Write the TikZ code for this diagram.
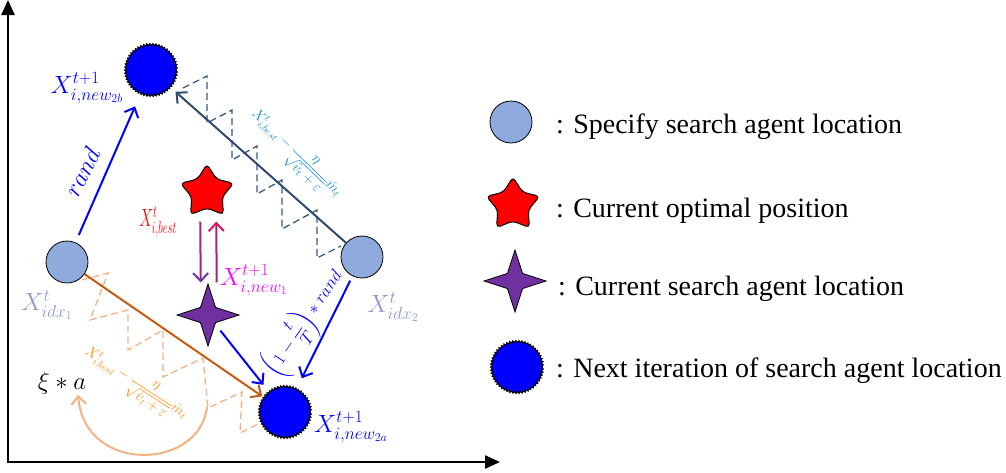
\documentclass[tikz,border=0pt]{standalone}
\usepackage{amsmath}
\usepackage{fontspec}
\setmainfont{LiberationSerif}[Extension=.ttf,UprightFont=*-Regular,ItalicFont=*-Italic,BoldFont=*-Bold]
\usetikzlibrary{arrows.meta,positioning,calc,shapes.geometric,decorations.pathmorphing}
\definecolor{agentblue}{RGB}{143,170,220}
\definecolor{nextblue}{RGB}{0,0,255}
\definecolor{bestred}{RGB}{255,0,0}
\definecolor{curpurple}{RGB}{112,48,160}
\definecolor{idxgray}{RGB}{142,152,200}
\definecolor{pathnavy}{RGB}{46,74,112}
\definecolor{dashnavy}{RGB}{51,91,130}
\definecolor{formcyan}{RGB}{20,140,210}
\definecolor{pathorange}{RGB}{197,90,17}
\definecolor{lightorange}{RGB}{244,177,131}
\definecolor{formorange}{RGB}{255,140,20}
\definecolor{newmagenta}{RGB}{255,0,255}
\definecolor{crimson}{RGB}{225,20,90}

\tikzset{
  agent/.style={circle,draw=black,line width=0.8pt,fill=agentblue,minimum size=42pt,inner sep=0pt},
  nextpos/.style={circle,fill=nextblue,minimum size=51pt,inner sep=0pt,
    postaction={draw=black,line width=1pt,decorate,decoration={zigzag,segment length=3pt,amplitude=1pt}}},
  beststar/.style={star,star points=5,star point ratio=1.75,fill=bestred,draw=black,line width=1pt,
    rounded corners=4pt,minimum size=56pt,inner sep=0pt},
  curstar/.style={star,star points=4,star point ratio=2.9,fill=curpurple,draw=black,line width=0.8pt,
    minimum size=62pt,inner sep=0pt},
  lbl/.style={font=\fontsize{24}{28}\selectfont,inner sep=0pt},
  formula/.style={font=\fontsize{14}{16}\selectfont,inner sep=0pt},
  legtext/.style={font=\fontsize{28}{32}\selectfont,anchor=base west,inner sep=0pt},
  flow/.style={line width=2pt,-{Straight Barb[length=8pt,width=15pt,line width=2pt]}},
  zig/.style={dash pattern=on 7pt off 4pt,line width=1.3pt},
}

\begin{document}
\begin{tikzpicture}[x=1pt,y=-1pt]
  \useasboundingbox (0,0) rectangle (1006,472);
  % ---- axes
  \draw[line width=2.4pt,-{Triangle[length=15pt,width=13pt]}] (8,463) -- (8,0);
  \draw[line width=2.4pt,-{Triangle[length=15pt,width=13pt]}] (7,462) -- (500,462);

  % ---- positions
  \node[nextpos] (new2b) at (151,70) {};
  \node[nextpos] (new2a) at (285,412) {};
  \node[agent] (idx1) at (67,262) {};
  \node[agent] (idx2) at (362,257) {};
  \node[beststar] (best) at (207,192) {};
  \node[curstar] (cur) at (208,315) {};

  % ---- dashed sawtooth around the two update paths
  \draw[zig,dashnavy] (183,88) -- (207,76) -- (207,123) -- (232,110) -- (232,160) -- (257,146)
        -- (257,194) -- (282,180) -- (282,229) -- (317,210) -- (317,258) -- (341,246);
  \draw[zig,lightorange] (82,280) -- (108,273) -- (90,320) -- (128,310) -- (128,350) -- (163,330)
        -- (163,377) -- (203,358) -- (208,408) -- (242,392) -- (240,433) -- (260,423);

  % ---- moves
  \draw[flow,nextblue,shorten <=8pt,shorten >=14pt] (idx1) -- (new2b);
  \draw[flow,pathnavy,shorten >=7pt] (idx2) -- (new2b);
  \draw[flow,pathorange,shorten >=2pt] (idx1) -- (new2a);
  \draw[flow,nextblue,shorten <=5pt,shorten >=12pt] (idx2) -- (new2a);
  \draw[flow,nextblue,shorten <=8pt,shorten >=9pt] (cur) -- (new2a);
  \draw[flow,crimson!55!curpurple,-{Straight Barb[length=8pt,width=15pt,line width=2pt,color=curpurple]},
        transform canvas={xshift=-7pt},shorten <=13pt,shorten >=1pt] (best) -- (cur);
  \draw[flow,crimson!55!curpurple,-{Straight Barb[length=8pt,width=15pt,line width=2pt,color=crimson]},
        transform canvas={xshift=9pt},shorten <=1pt,shorten >=13pt] (cur) -- (best);

  % ---- labels
  \node[lbl,text=nextblue] (lnew2b) at (87,88) {$X^{t+1}_{i,new_{2b}}$};
  \node[lbl,text=idxgray] (lidx1) at (47,305) {$X^{t}_{idx_1}$};
  \node[lbl,text=idxgray] (lidx2) at (393,307) {$X^{t}_{idx_2}$};
  \node[lbl,text=bestred] (lbest) at (158,222) {\scalebox{0.62}[1]{$X^{t}_{i,best}$}};
  \node[lbl,text=newmagenta] (lnew1) at (254,280) {$X^{t+1}_{i,new_1}$};
  \node[lbl,text=nextblue] (lnew2a) at (351,427) {$X^{t+1}_{i,new_{2a}}$};
  \node[lbl] (xia) at (62,383) {$\xi*a$};
  \node[lbl,text=nextblue,rotate=63] (lrand) at (82,172) {$rand$};
  \node[lbl,font=\fontsize{18}{22}\selectfont,text=nextblue,rotate=56] (lshrink) at (305,323)
       {$\left(1-\dfrac{t}{T}\right)*rand$};
  \node[formula,text=formcyan,rotate=-44] (lnavy) at (295,155)
       {$X^{t}_{i,best}-\dfrac{\eta}{\sqrt{\hat{v}_t+\varepsilon}}\hat{m}_t$};
  \node[formula,text=formorange,rotate=-33] (lorange) at (135,385)
       {$X^{t}_{i,best}-\dfrac{\eta}{\sqrt{\hat{v}_t+\varepsilon}}\hat{m}_t$};

  % ---- step size arc
  \coordinate (arcfrom) at (207,407);
  \coordinate (arcto) at (78,395);
  \draw[line width=2pt,lightorange,-{Straight Barb[length=8pt,width=15pt,line width=2pt]}]
        (arcfrom) .. controls (200,470) and (85,475) .. (arcto);

  % ---- legend
  \node[agent] (lgspec) at (511,122) {};
  \node[beststar] (lgbest) at (513,205) {};
  \node[curstar] (lgcur) at (515,281) {};
  \node[nextpos] (lgnext) at (517,367) {};
  \node[legtext] (tspec) at (556,133) {: Specify search agent location};
  \node[legtext] (tbest) at (556,217) {: Current optimal position};
  \node[legtext] (tcur) at (558,295) {: Current search agent location};
  \node[legtext] (tnext) at (556,377) {: Next iteration of search agent location};
\end{tikzpicture}
\end{document}
